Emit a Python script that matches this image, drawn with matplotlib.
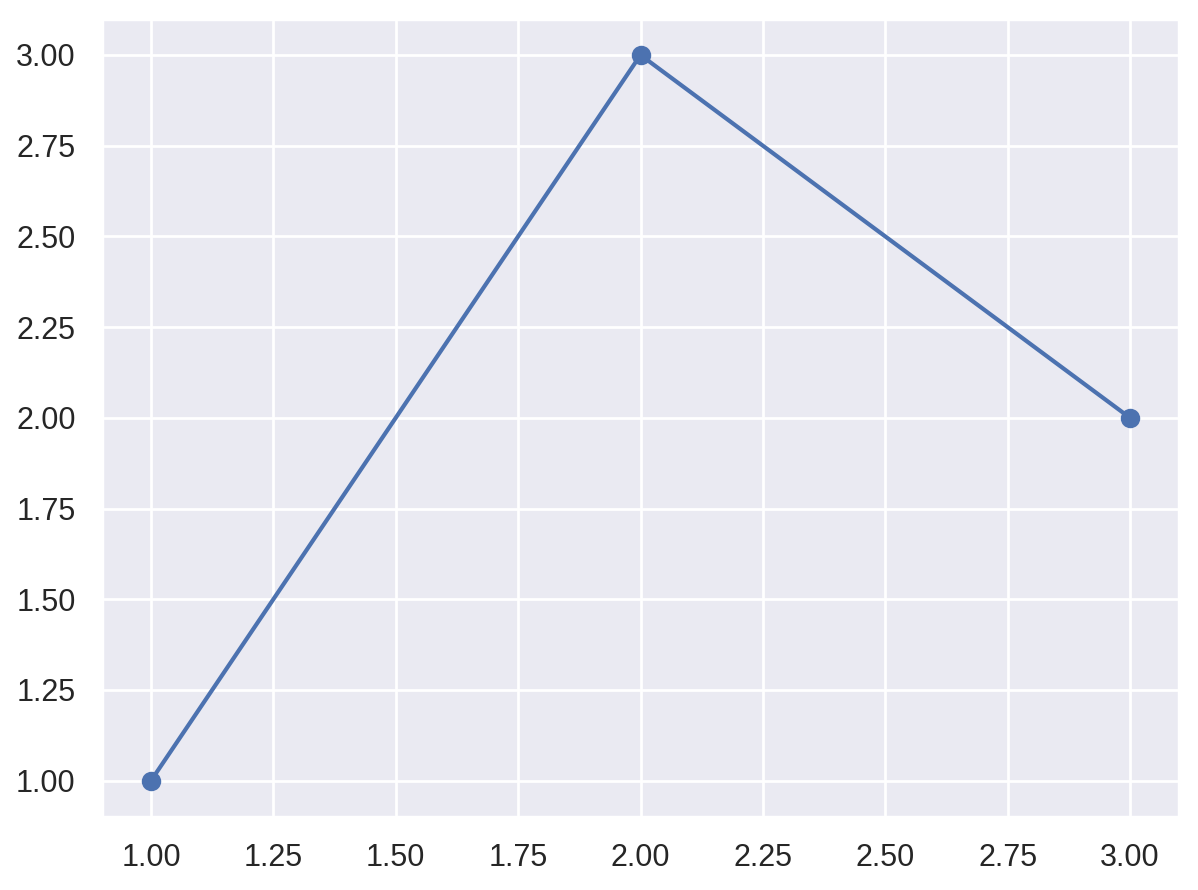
import matplotlib
matplotlib.use("Agg")
import matplotlib.pyplot as plt
import seaborn as sns

x_values = [1, 2, 3]
y_values = [1, 3, 2]

sns.set_theme(style="darkgrid")
plt.rcParams["font.family"] = ["Liberation Sans", "DejaVu Sans"]
fig, ax = plt.subplots(figsize=(5.99, 4.45))
ax.plot(x_values, y_values, marker="o")
fig.subplots_adjust(left=102/1198, right=1179/1198, top=1-18.7/890, bottom=1-817/890)
fig.savefig("out.png", dpi=200)
